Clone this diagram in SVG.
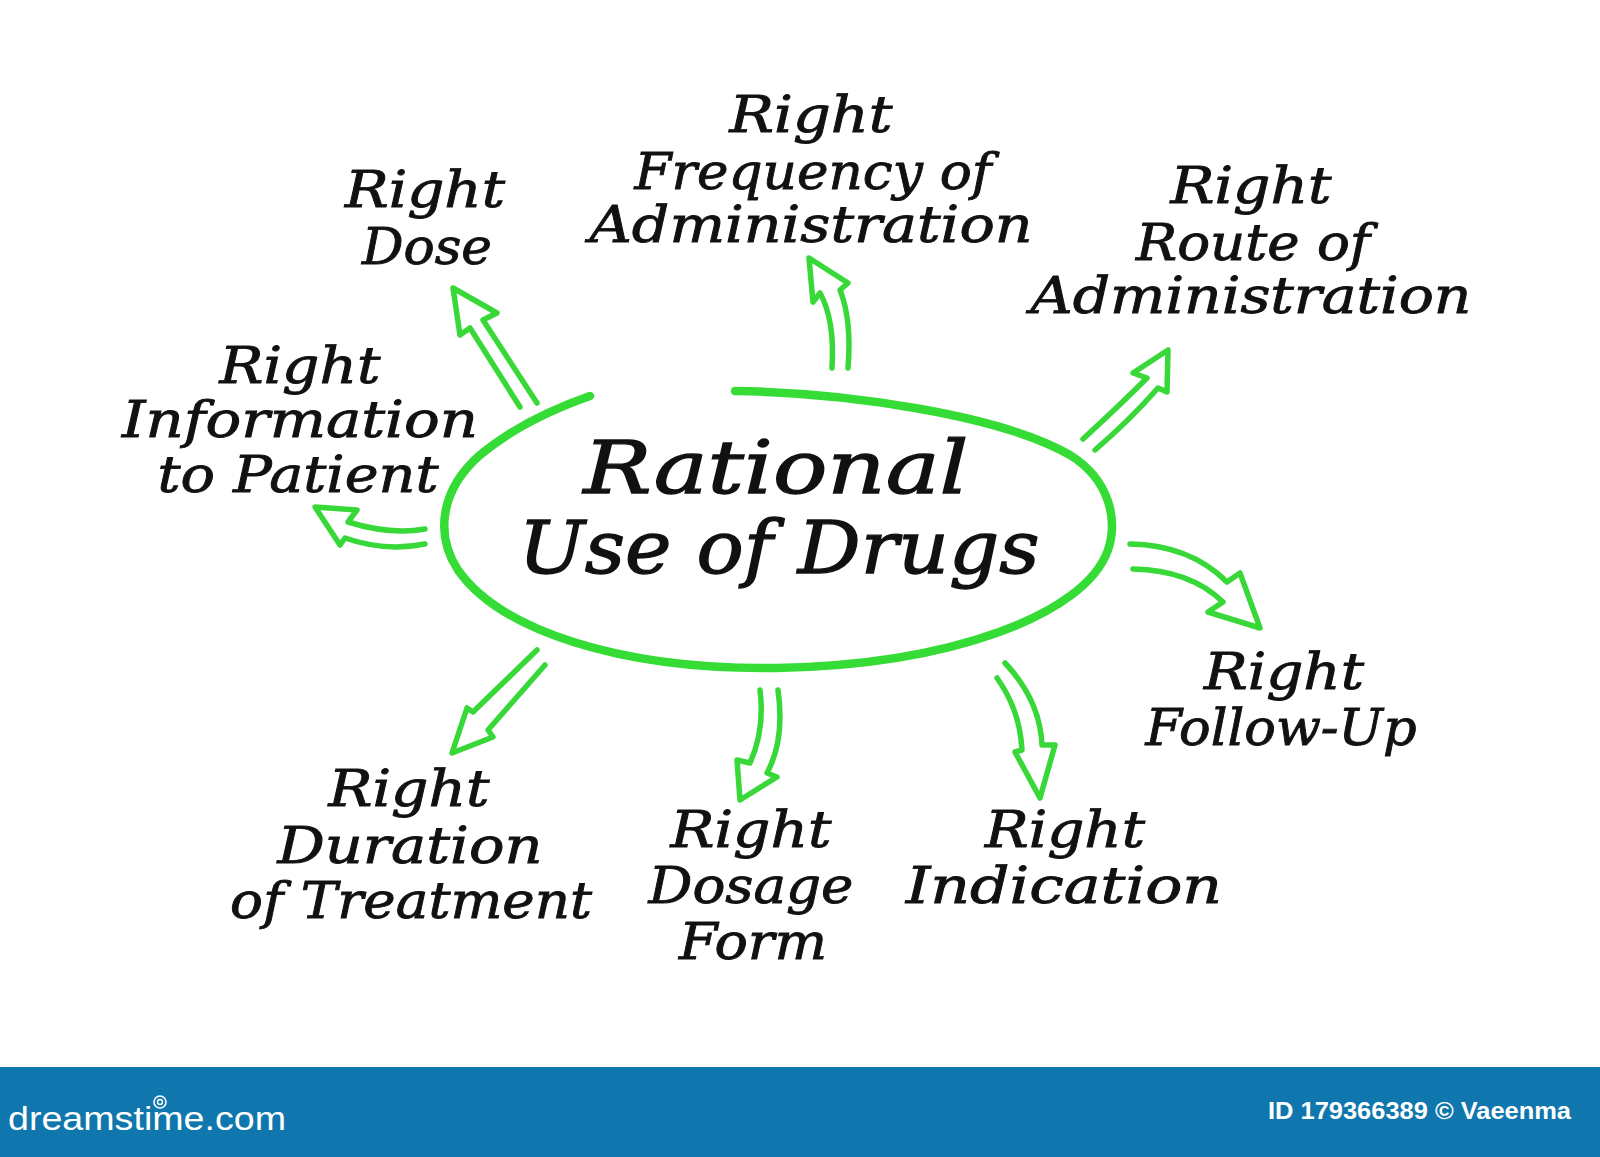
<svg xmlns="http://www.w3.org/2000/svg" width="1600" height="1157" viewBox="0 0 1600 1157">
<style>
.t{font-family:"DejaVu Serif","Liberation Serif",serif;font-style:italic;font-size:50px;fill:#111;stroke:#111;stroke-width:0.9;text-anchor:middle}
.c{font-size:72px;stroke-width:1.3}
.a{fill:none;stroke:#38d838;stroke-width:5.5;stroke-linecap:round;stroke-linejoin:round}
.foot{font-family:"Liberation Sans","DejaVu Sans",sans-serif;fill:#fff}
</style>
<rect width="1600" height="1157" fill="#fff"/>
<g id="center">
<path d="M 735,391 C 850,393 1000,415 1070,455 C 1110,480 1118,520 1108,550 C 1085,615 950,665 776,668 C 620,670 500,630 458,570 C 435,535 440,490 480,455 C 510,430 550,410 590,396" fill="none" stroke="#36dc36" stroke-width="8.5" stroke-linecap="round"/>
<text class="t c" x="776" y="493" textLength="385" lengthAdjust="spacingAndGlyphs">Rational</text>
<text class="t c" x="779" y="573" textLength="521" lengthAdjust="spacingAndGlyphs">Use of Drugs</text>
</g>
<g id="connectors">
<path class="a" d="M 520,407 L 470,328 L 460,335 L 453,288 L 497,313 L 483,320 L 537,403"/>
<path class="a" d="M 832,368 Q 835,320 820,293 L 813,302 L 809,258 L 848,283 L 840,290 Q 852,320 848,368"/>
<path class="a" d="M 1083,439 Q 1120,405 1147,378 L 1133,373 L 1168,350 L 1167,392 L 1158,388 Q 1130,420 1095,450"/>
<path class="a" d="M 425,529 Q 390,535 348,522 L 357,510 L 315,507 L 340,545 L 345,538 Q 385,552 425,544"/>
<path class="a" d="M 1130,544 Q 1190,545 1227,582 L 1240,573 L 1260,628 L 1208,612 L 1223,602 Q 1190,570 1133,569"/>
<path class="a" d="M 537,650 L 473,712 L 467,708 L 452,753 L 493,737 L 488,730 L 545,665"/>
<path class="a" d="M 760,690 Q 765,730 750,763 L 737,760 L 740,800 L 777,777 L 767,773 Q 785,740 778,690"/>
<path class="a" d="M 997,678 Q 1020,710 1022,750 L 1015,752 L 1040,798 L 1055,745 L 1042,745 Q 1040,700 1005,663"/>
</g>
<g id="dose">
<text class="t" x="425" y="207" textLength="160" lengthAdjust="spacingAndGlyphs">Right</text>
<text class="t" x="427" y="264" textLength="130" lengthAdjust="spacingAndGlyphs">Dose</text>
</g>
<g id="frequency">
<text class="t" x="811" y="132" textLength="163" lengthAdjust="spacingAndGlyphs">Right</text>
<text class="t" x="813" y="189" textLength="357" lengthAdjust="spacingAndGlyphs">Frequency of</text>
<text class="t" x="811" y="242" textLength="443" lengthAdjust="spacingAndGlyphs">Administration</text>
</g>
<g id="route">
<text class="t" x="1251" y="203" textLength="161" lengthAdjust="spacingAndGlyphs">Right</text>
<text class="t" x="1253" y="260" textLength="234" lengthAdjust="spacingAndGlyphs">Route of</text>
<text class="t" x="1251" y="313" textLength="441" lengthAdjust="spacingAndGlyphs">Administration</text>
</g>
<g id="information">
<text class="t" x="300" y="383" textLength="161" lengthAdjust="spacingAndGlyphs">Right</text>
<text class="t" x="300" y="437" textLength="356" lengthAdjust="spacingAndGlyphs">Information</text>
<text class="t" x="298" y="492" textLength="281" lengthAdjust="spacingAndGlyphs">to Patient</text>
</g>
<g id="followup">
<text class="t" x="1284" y="689" textLength="160" lengthAdjust="spacingAndGlyphs">Right</text>
<text class="t" x="1281" y="745" textLength="271" lengthAdjust="spacingAndGlyphs">Follow-Up</text>
</g>
<g id="duration">
<text class="t" x="409" y="806" textLength="161" lengthAdjust="spacingAndGlyphs">Right</text>
<text class="t" x="410" y="863" textLength="265" lengthAdjust="spacingAndGlyphs">Duration</text>
<text class="t" x="411" y="918" textLength="362" lengthAdjust="spacingAndGlyphs">of Treatment</text>
</g>
<g id="dosage">
<text class="t" x="751" y="847" textLength="161" lengthAdjust="spacingAndGlyphs">Right</text>
<text class="t" x="751" y="903" textLength="205" lengthAdjust="spacingAndGlyphs">Dosage</text>
<text class="t" x="753" y="959" textLength="148" lengthAdjust="spacingAndGlyphs">Form</text>
</g>
<g id="indication">
<text class="t" x="1065" y="847" textLength="160" lengthAdjust="spacingAndGlyphs">Right</text>
<text class="t" x="1064" y="903" textLength="316" lengthAdjust="spacingAndGlyphs">Indication</text>
</g>
<g id="footer">
<rect x="0" y="1067" width="1600" height="90" fill="#0f77ad"/>
<circle cx="160" cy="1102" r="6" fill="none" stroke="#fff" stroke-width="1.6"/>
<circle cx="160" cy="1102" r="2.5" fill="none" stroke="#fff" stroke-width="1.4"/>
<text class="foot" x="8" y="1130" font-size="34" textLength="278" lengthAdjust="spacingAndGlyphs">dreamstime.com</text>
<text class="foot" x="1268" y="1119" font-size="23" font-weight="bold" textLength="303" lengthAdjust="spacingAndGlyphs">ID 179366389 © Vaeenma</text>
</g>
</svg>
